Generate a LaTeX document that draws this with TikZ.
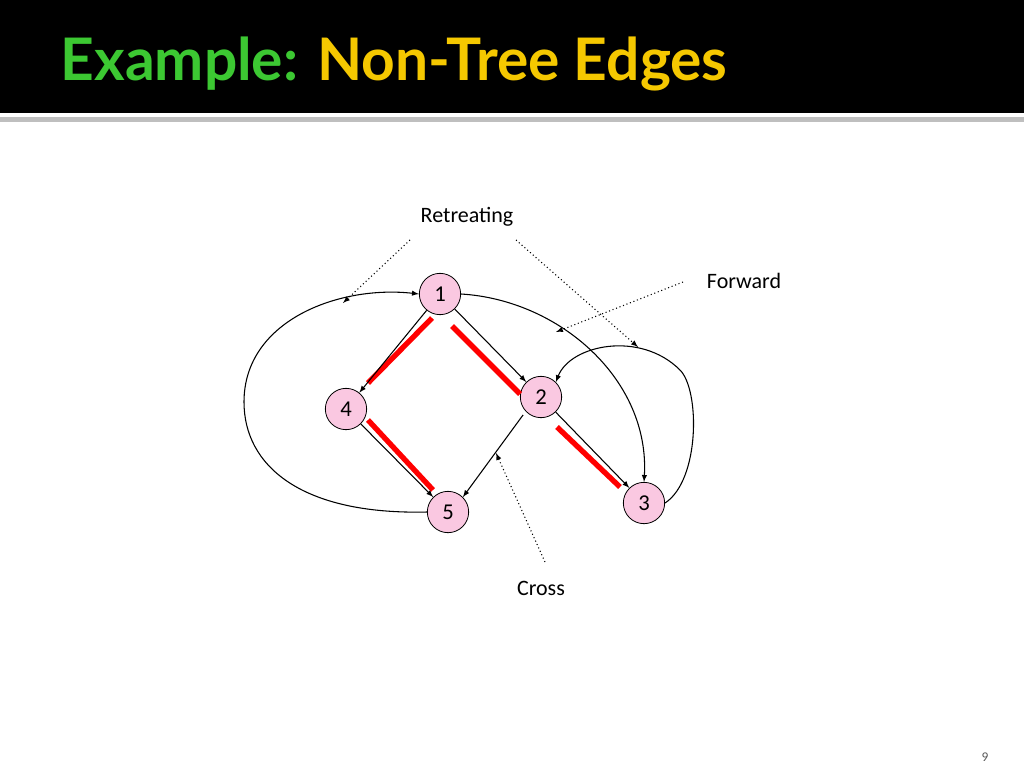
\documentclass[tikz,border=0pt]{standalone}
\usepackage{fontspec}
\setmainfont{Carlito}
\newfontfamily\titlefont{Lato}
\begin{document}
\begin{tikzpicture}[x=0.75pt,y=-0.75pt,
  vert/.style={circle,draw,line width=0.6pt,fill={rgb,255:red,250;green,200;blue,225},minimum size=31pt,inner sep=0pt,font=\fontsize{17}{17}\selectfont},
  edge/.style={-latex,line width=0.8pt},
  tree/.style={red,line width=4pt},
  note/.style={dotted,-latex,line width=0.8pt},
  lab/.style={font=\fontsize{16.5}{19}\selectfont}]
\useasboundingbox (0,0) rectangle (1024,768);
\fill[black] (0,0) rectangle (1024,113);
\fill[gray!50] (0,117) rectangle (1024,122);
\node[anchor=west,font=\titlefont\bfseries\fontsize{44}{48}\selectfont] (title) at (56,64)
  {\textcolor[RGB]{60,200,50}{Example:} \textcolor[RGB]{245,200,0}{Non-Tree Edges}};
\node[vert] (n1) at (440,294) {1};
\node[vert] (n2) at (541,397) {2};
\node[vert] (n3) at (644,503) {3};
\node[vert] (n4) at (346,409) {4};
\node[vert] (n5) at (448,512) {5};
\coordinate (r1a) at (432,318); \coordinate (r1b) at (368,383);
\coordinate (r2a) at (452,326); \coordinate (r2b) at (520,394);
\coordinate (r3a) at (368,420); \coordinate (r3b) at (433,490);
\coordinate (r4a) at (557,427); \coordinate (r4b) at (620,487);
\draw[tree] (r1a) -- (r1b);
\draw[tree] (r2a) -- (r2b);
\draw[tree] (r3a) -- (r3b);
\draw[tree] (r4a) -- (r4b);
\draw[edge] (n1) -- (n4);
\draw[edge] (n1) -- (n2);
\draw[edge] (n4) -- (n5);
\draw[edge] (n2) -- (n3);
\draw[edge] (n2.south west) ++(-3,3) coordinate (c2) (c2) -- (n5.north east);
\draw[edge] (n1.east) .. controls (560,300) and (650,380) .. (n3.north);
\draw[edge] (n3.east) .. controls (700,480) and (700,390) .. (680,370) .. controls (640,330) and (570,345) .. (n2.north east);
\draw[edge] (n5.west) .. controls (300,515) and (244,465) .. (244,402) .. controls (244,320) and (340,285) .. (n1.west);
\node[lab] (ret) at (467,217) {Retreating};
\node[lab] (fwd) at (744,281) {Forward};
\node[lab] (crs) at (541,588) {Cross};
\node[font=\fontsize{10}{12}\selectfont,text=gray!70!black] (pg) at (985,757) {9};
\coordinate (t1) at (343,303); \coordinate (t2) at (638,347);
\coordinate (t3) at (556,332); \coordinate (t4) at (496,453);
\draw[note] (410,240) -- (t1);
\draw[note] (516,240) -- (t2);
\draw[note] (683,282) -- (t3);
\draw[note] (545,562) -- (t4);
\end{tikzpicture}
\end{document}
